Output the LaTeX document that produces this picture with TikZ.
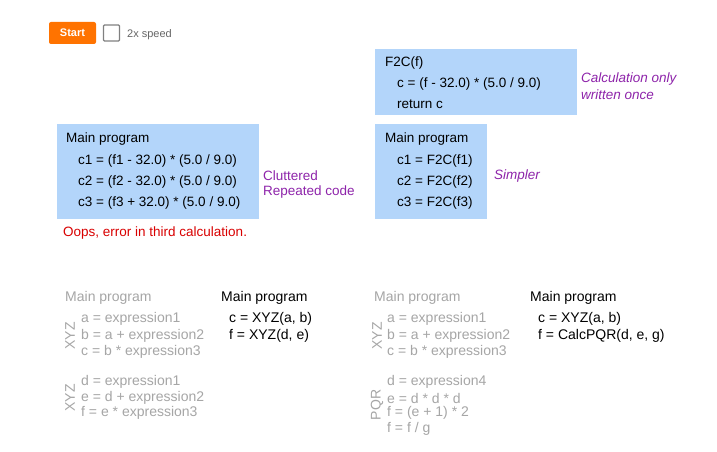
\documentclass[tikz,border=0pt]{standalone}
\usepackage{fontspec}
\setmainfont{Liberation Sans}
\definecolor{boxblue}{HTML}{B3D5FA}
\definecolor{notepurple}{HTML}{8E24AA}
\begin{document}
\begin{tikzpicture}[x=1pt,y=-1pt,
  txt/.style={anchor=west,inner sep=0pt,font=\fontsize{13.5}{15}\selectfont},
  gtxt/.style={txt,text=gray!70,font=\fontsize{14}{16}\selectfont},
  btxt/.style={txt,font=\fontsize{14}{16}\selectfont},
  note/.style={txt,text=notepurple},
  box/.style={fill=boxblue,draw=none},
  rot/.style={rotate=90,text=gray!70,inner sep=0pt,font=\fontsize{14}{16}\selectfont}]
\useasboundingbox (0,0) rectangle (717,452);
\fill[white] (0,0) rectangle (717,452);
% controls
\node[fill=orange!90!red,rounded corners=2pt,minimum width=47pt,minimum height=22pt,inner sep=0pt,text=white,font=\bfseries\fontsize{11}{13}\selectfont] (start) at (72.5,33) {Start};
\node[draw=gray,line width=1.2pt,rounded corners=1pt,minimum size=16pt,inner sep=0pt] (chk) at (111.5,33) {};
\node[txt,text=gray!80!black,font=\fontsize{11}{13}\selectfont] (spd) at (127,35) {2x speed};
% boxes
\fill[box] (57,124) rectangle (259,219);
\fill[box] (375,49) rectangle (577,115);
\fill[box] (375,124) rectangle (487,219);
\node[txt] (m1) at (66,139) {Main program};
\node[txt] (c1) at (78,161) {c1 = (f1 - 32.0) * (5.0 / 9.0)};
\node[txt] (c2) at (78,182) {c2 = (f2 - 32.0) * (5.0 / 9.0)};
\node[txt] (c3) at (78,203) {c3 = (f3 + 32.0) * (5.0 / 9.0)};
\node[txt] (f2c) at (385,63) {F2C(f)};
\node[txt] (fc) at (397,84) {c = (f - 32.0) * (5.0 / 9.0)};
\node[txt] (ret) at (397,104) {return c};
\node[txt] (m2) at (385,139) {Main program};
\node[txt] (d1) at (397,161) {c1 = F2C(f1)};
\node[txt] (d2) at (397,182) {c2 = F2C(f2)};
\node[txt] (d3) at (397,203) {c3 = F2C(f3)};
\node[note] (n1) at (263,176) {Cluttered};
\node[note] (n2) at (263,192) {Repeated code};
\node[note] (n3) at (494,176) {\itshape Simpler};
\node[note] (n4) at (581,79) {\itshape Calculation only};
\node[note] (n5) at (581,95) {\itshape written once};
\node[txt,text=red!85!black] (oops) at (63,233) {Oops, error in third calculation.};
% bottom left
\node[gtxt] (g1) at (65,298) {Main program};
\node[btxt] (b1) at (221,298) {Main program};
\node[gtxt] (l1) at (81,319) {a = expression1};
\node[gtxt] (l2) at (81,336) {b = a + expression2};
\node[gtxt] (l3) at (81,352) {c = b * expression3};
\node[rot] (r1) at (70,336) {XYZ};
\node[gtxt] (l4) at (81,382) {d = expression1};
\node[gtxt] (l5) at (81,398) {e = d + expression2};
\node[gtxt] (l6) at (81,413) {f = e * expression3};
\node[rot] (r2) at (70,398) {XYZ};
\node[btxt] (k1) at (229,319) {c = XYZ(a, b)};
\node[btxt] (k2) at (229,336) {f = XYZ(d, e)};
% bottom right
\node[gtxt] (g2) at (374,298) {Main program};
\node[btxt] (b2) at (530,298) {Main program};
\node[gtxt] (p1) at (387,319) {a = expression1};
\node[gtxt] (p2) at (387,336) {b = a + expression2};
\node[gtxt] (p3) at (387,352) {c = b * expression3};
\node[rot] (r3) at (377,336) {XYZ};
\node[gtxt] (p4) at (387,382) {d = expression4};
\node[gtxt] (p5) at (387,398) {e = d * d * d};
\node[gtxt] (p6) at (387,413) {f = (e + 1) * 2};
\node[gtxt] (p7) at (387,429) {f = f / g};
\node[rot] (r4) at (377,405) {PQR};
\node[btxt] (k3) at (538,319) {c = XYZ(a, b)};
\node[btxt] (k4) at (538,336) {f = CalcPQR(d, e, g)};
\end{tikzpicture}
\end{document}
